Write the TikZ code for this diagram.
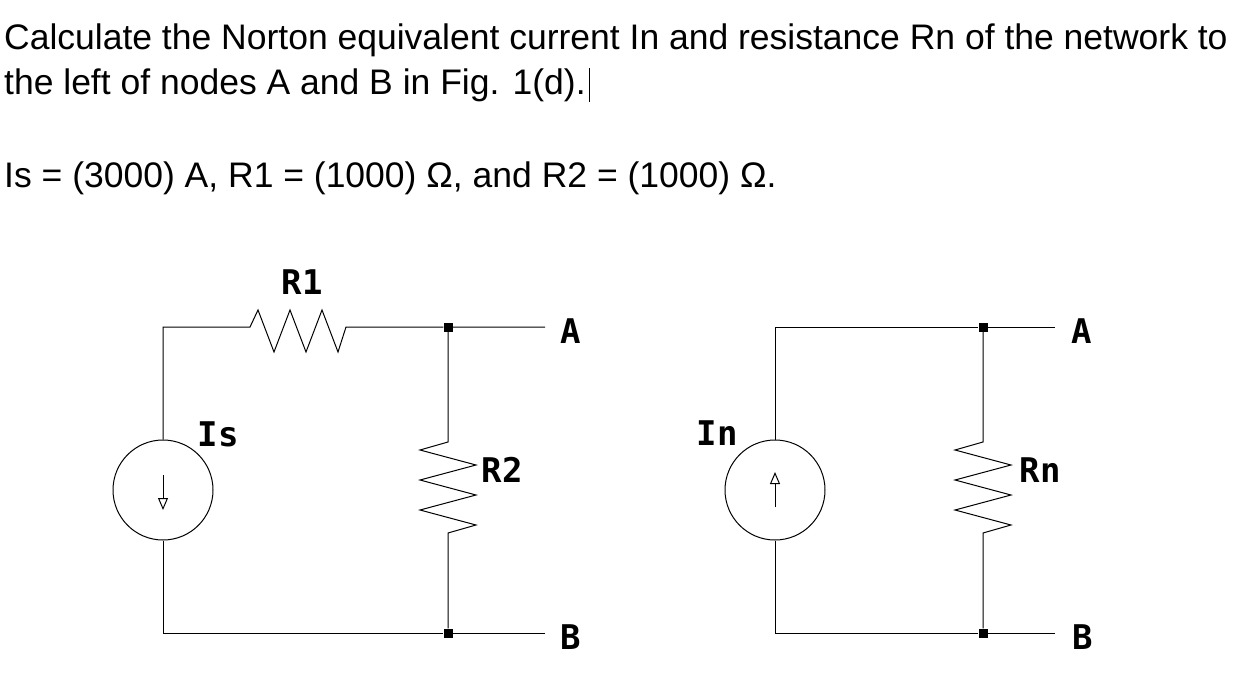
\documentclass[tikz,border=0pt]{standalone}
\usepackage{fontspec}
\setmainfont{Liberation Sans}
\newfontfamily\lab{DejaVu Sans Mono}
\usetikzlibrary{arrows.meta}
\begin{document}
\begin{tikzpicture}[x=1pt,y=-1pt,
  w/.style={line width=1pt},
  lbl/.style={font=\lab\bfseries\fontsize{34}{34}\selectfont,inner sep=0pt},
  txt/.style={font=\fontsize{35.5}{40}\selectfont,anchor=west,inner sep=0pt},
  dot/.style={fill=black,minimum size=9pt,inner sep=0pt},
  src/.style={draw,circle,minimum size=100pt,inner sep=0pt,line width=1pt}]
\useasboundingbox (0,0) rectangle (1258,678);
\node[txt] (t1) at (4,40) {Calculate the Norton equivalent current In and resistance Rn of the network to};
\node[txt] (t2) at (4,85) {the left of nodes A and B in Fig. 1(d).};
\draw[line width=0.8pt] (t2.east)++(4,-17) -- ++(0,34);
\node[txt] (t3) at (4,178) {Is = (3000) A, R1 = (1000) \symbol{"03A9}, and R2 = (1000) \symbol{"03A9}.};
% left circuit
\node[src] (is) at (163,490) {};
\node[dot] (ta) at (448,327) {};
\node[dot] (tb) at (448,633) {};
\coordinate (c1) at (163,327);
\coordinate (c2) at (163,633);
\coordinate (ea) at (545,327);
\coordinate (eb) at (545,633);
\draw[w] (is.north) -- (c1) -- (250,327) -- (258,310) -- (274,352) -- (290,310) -- (306,352) -- (322,310) -- (338,352) -- (346,327) -- (ta) -- (ea);
\draw[w] (is.south) -- (c2) -- (tb) -- (eb);
\draw[w] (ta) -- (448,442) -- (420,450) -- (476,465) -- (420,480) -- (476,495) -- (420,510) -- (476,525) -- (448,533) -- (tb);
\draw[w,-{Triangle[open,length=12pt,width=10pt]}] (163,475) -- (163,510);
\node[lbl] (lis) at (218,434) {Is};
\node[lbl] (lr1) at (302,282) {R1};
\node[lbl] (lr2) at (502,470) {R2};
\node[lbl] (la) at (571,331) {A};
\node[lbl] (lb) at (571,637) {B};
% right circuit
\node[src] (in) at (775,490) {};
\node[dot] (ra) at (983,327) {};
\node[dot] (rb) at (983,633) {};
\coordinate (d1) at (775,327);
\coordinate (d2) at (775,633);
\coordinate (fa) at (1055,327);
\coordinate (fb) at (1055,633);
\draw[w] (in.north) -- (d1) -- (ra) -- (fa);
\draw[w] (in.south) -- (d2) -- (rb) -- (fb);
\draw[w] (ra) -- (983,442) -- (955,450) -- (1011,465) -- (955,480) -- (1011,495) -- (955,510) -- (1011,525) -- (983,533) -- (rb);
\draw[w,-{Triangle[open,length=12pt,width=10pt]}] (775,507) -- (775,472);
\node[lbl] (lin) at (717,433) {In};
\node[lbl] (lrn) at (1040,470) {Rn};
\node[lbl] (la2) at (1082,331) {A};
\node[lbl] (lb2) at (1083,637) {B};
\end{tikzpicture}
\end{document}
